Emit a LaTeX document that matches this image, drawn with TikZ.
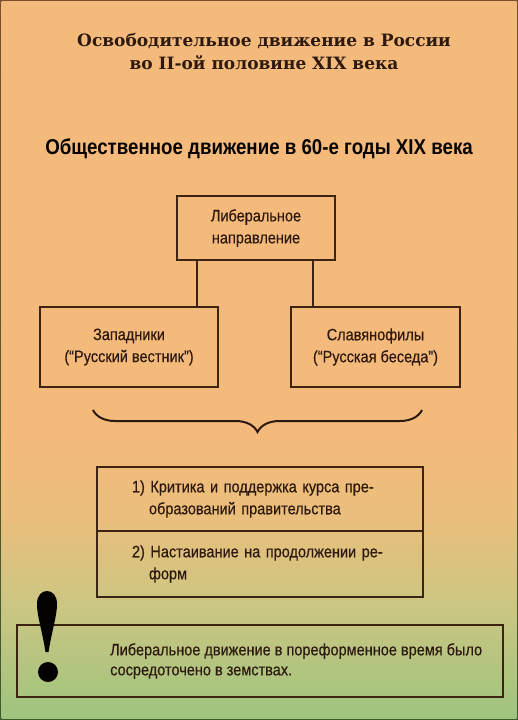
\documentclass[tikz,border=0pt]{standalone}
\usepackage{fontspec}
\usepackage{xcolor}
\usepackage{tikz}
\usetikzlibrary{positioning, calc, decorations.pathreplacing}

\newfontfamily\titlefont{DejaVu Serif}
\newfontfamily\headfont[FakeStretch=0.87]{Liberation Sans}
\newfontfamily\boxfont[FakeStretch=0.88, FakeBold=0.4]{Liberation Sans}

\definecolor{bgorange}{RGB}{244,186,123}
\definecolor{bgpeach}{RGB}{234,190,124}
\definecolor{bgyellow}{RGB}{204,198,130}
\definecolor{bggreen}{RGB}{158,196,126}
\definecolor{frametop}{RGB}{120,80,45}
\definecolor{framebot}{RGB}{60,90,45}
\definecolor{inkbrown}{RGB}{45,25,15}
\definecolor{linebrown}{RGB}{60,35,18}

\pgfdeclareverticalshading{pagebg}{100bp}{color(0bp)=(bggreen); color(25bp)=(bggreen); color(33bp)=(bgyellow); color(39bp)=(bgpeach); color(45bp)=(bgorange); color(100bp)=(bgorange)}

\begin{document}
\begin{tikzpicture}[
    x=1pt, y=-1pt,
    box/.style={draw=linebrown, line width=1.5pt, outer sep=0pt, align=center, text=inkbrown,
        font={\boxfont\fontsize{16.5}{22}\selectfont}},
    itembox/.style={box, minimum width=326pt, minimum height=64pt, inner xsep=35pt, text width=256pt, align=left},
    link/.style={draw=linebrown, line width=1.5pt},
]
    \useasboundingbox (0,0) rectangle (518,720);
    % page
    \shade[top color=frametop, bottom color=framebot] (0,0) rectangle (518,720);
    \shade[shading=pagebg] (1.5,1.5) rectangle (516.5,718.5);

    \node[text=inkbrown, align=center, font={\titlefont\bfseries\fontsize{17}{23}\selectfont}] (title) at (264,52)
        {Освободительное движение в России\\во II-ой половине XIX века};
    \node[text=black!85!inkbrown, font={\headfont\bfseries\fontsize{21.5}{24}\selectfont}] (subtitle) at (259,149)
        {Общественное движение в 60-е годы XIX века};

    % directions
    \node[box, minimum width=158pt, minimum height=64pt] (liberal) at (256,228) {Либеральное\\направление};
    \node[box, minimum width=178pt, minimum height=80pt] (zapad) at (129,347) {Западники\\(“Русский вестник”)};
    \node[box, minimum width=169pt, minimum height=80pt] (slav) at (375.5,347) {Славянофилы\\(“Русская беседа”)};

    \coordinate (lz) at ($(liberal.south west)!0.127!(liberal.south east)$);
    \coordinate (ls) at ($(liberal.south west)!0.861!(liberal.south east)$);
    \draw[link] (lz) -- (lz |- zapad.north);
    \draw[link] (ls) -- (ls |- slav.north);

    \coordinate (braceL) at (93,410);
    \coordinate (braceR) at (422,410);
    \draw[draw=inkbrown, line width=2pt, decorate, decoration={brace, mirror, amplitude=22pt}] (braceL) -- (braceR);

    \node[itembox] (item1) at (260,499) {1) Критика и поддержка курса пре-\\\hspace*{17pt}образований правительства};
    \node[itembox, minimum height=66pt, below=0pt of item1] (item2) {2) Настаивание на продолжении ре-\\\hspace*{17pt}форм};

    % note
    \node[box, minimum width=486pt, minimum height=72pt] (note) at (260,661) {};
    \node[text=inkbrown, inner sep=0pt, align=left, font={\boxfont\fontsize{16.5}{20}\selectfont},
        right=93pt of note.west] (notetext)
        {Либеральное движение в пореформенное время было\\сосредоточено в земствах.};
    \fill[black!90!inkbrown] (45.5,652) .. controls (42,630) and (37,616) .. (37,604)
        .. controls (37,595) and (42,591) .. (47,591) .. controls (52,591) and (57,595) .. (57,604)
        .. controls (57,616) and (52,630) .. (48.5,652) -- cycle;
    \fill[black!90!inkbrown] (48,672) circle (10);
\end{tikzpicture}
\end{document}
